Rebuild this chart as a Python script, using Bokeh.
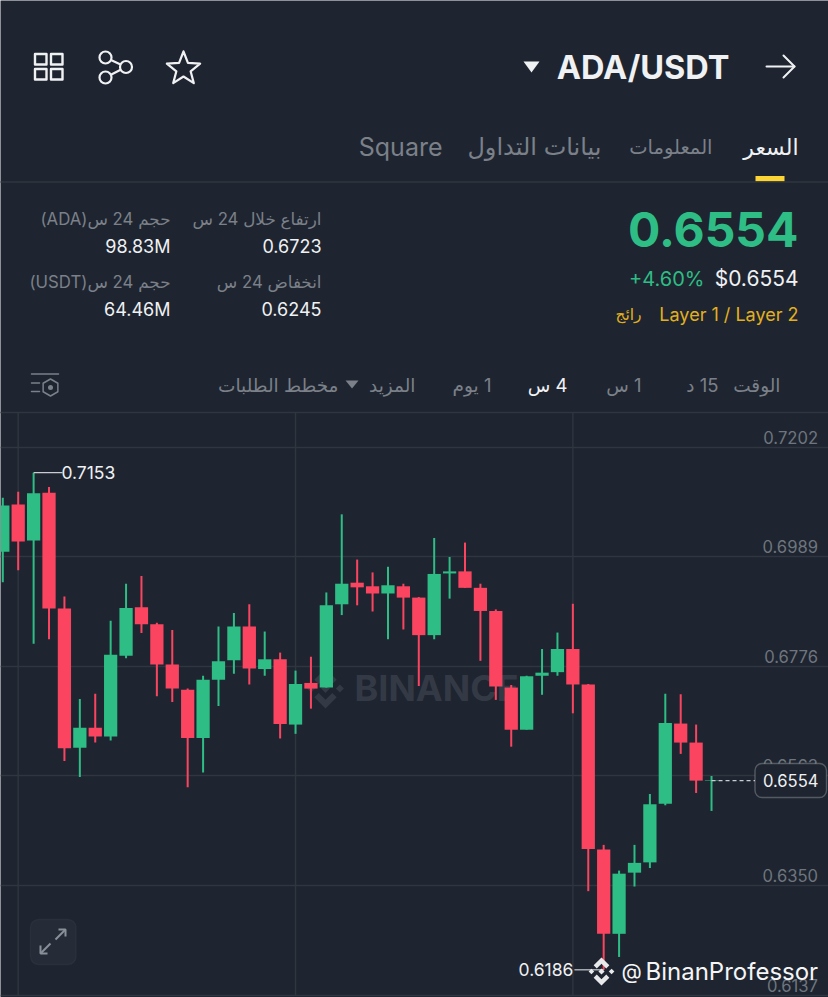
import numpy as np
from bokeh.core.properties import value
from bokeh.embed import file_html
from bokeh.models import BoxAnnotation, ColumnDataSource, FixedTicker, Grid, Label, Range1d
from bokeh.plotting import figure
from bokeh.resources import INLINE

# ---- data ----
opens = [0.6999, 0.7091, 0.7021, 0.7114, 0.6889, 0.6618, 0.6657, 0.6640, 0.6797, 0.6891,
         0.6858, 0.6780, 0.6731, 0.6637, 0.6750, 0.6788, 0.6854, 0.6771, 0.6790, 0.6663,
         0.6744, 0.6735, 0.6897, 0.6939, 0.6932, 0.6918, 0.6932, 0.6910, 0.6837, 0.6957,
         0.6961, 0.6929, 0.6884, 0.6735, 0.6653, 0.6758, 0.6765, 0.6810, 0.6741, 0.6420,
         0.6256, 0.6375, 0.6395, 0.6509, 0.6665, 0.6628, 0.6554]
highs = [0.7104, 0.7116, 0.7153, 0.7125, 0.6912, 0.6713, 0.6723, 0.6865, 0.6937, 0.6952,
         0.6861, 0.6847, 0.6733, 0.6758, 0.6854, 0.6880, 0.6897, 0.6844, 0.6803, 0.6768,
         0.6795, 0.6920, 0.7072, 0.6984, 0.6959, 0.6970, 0.6937, 0.6911, 0.7026, 0.6989,
         0.7017, 0.6937, 0.6887, 0.6740, 0.6758, 0.6810, 0.6842, 0.6898, 0.6742, 0.6429,
         0.6379, 0.6429, 0.6528, 0.6723, 0.6722, 0.6663, 0.6563]
lows = [0.6940, 0.6963, 0.6820, 0.6829, 0.6592, 0.6561, 0.6628, 0.6632, 0.6792, 0.6841,
        0.6718, 0.6707, 0.6541, 0.6570, 0.6699, 0.6762, 0.6741, 0.6758, 0.6636, 0.6645,
        0.6694, 0.6735, 0.6876, 0.6895, 0.6883, 0.6829, 0.6848, 0.6738, 0.6829, 0.6908,
        0.6929, 0.6787, 0.6711, 0.6620, 0.6653, 0.6721, 0.6758, 0.6685, 0.6339, 0.6186,
        0.6211, 0.6348, 0.6384, 0.6506, 0.6606, 0.6530, 0.6495]
closes = [0.7089, 0.7019, 0.7113, 0.6889, 0.6617, 0.6657, 0.6640, 0.6799, 0.6890, 0.6858,
          0.6780, 0.6733, 0.6637, 0.6750, 0.6786, 0.6854, 0.6772, 0.6790, 0.6664, 0.6742,
          0.6733, 0.6895, 0.6937, 0.6930, 0.6918, 0.6934, 0.6910, 0.6837, 0.6956, 0.6961,
          0.6929, 0.6884, 0.6737, 0.6653, 0.6757, 0.6764, 0.6810, 0.6741, 0.6421, 0.6256,
          0.6373, 0.6394, 0.6508, 0.6666, 0.6628, 0.6554, 0.6555]
y_ticks = [0.7202, 0.6989, 0.6776, 0.6563, 0.6350, 0.6137]
y_tick_labels = ["0.7202", "0.6989", "0.6776", "0.6563", "0.6350", "0.6137"]
x_grid_index = [1, 19, 37]

last_price = "0.6554"
intervals = [("الوقت", 780, False), ("15 د", 718, False), ("1 س", 641, False),
             ("4 س", 567, True), ("1 يوم", 491, False), ("المزيد", 415, False),
             ("مخطط الطلبات", 338, False)]
tabs = [("السعر", 798, True, 22), ("المعلومات", 712, False, 19.5), ("بيانات التداول", 601, False, 24), ("Square", 442, False, 25)]

# ---- colours ----
BG, GREEN, RED = "#1e2530", "#2ebd85", "#fb4560"
GRID, GREY, WHITE, GOLD = "#30363f", "#7b8089", "#f0f1f3", "#e2b01f"
FONT = "Inter, DejaVu Sans"

# figure covers the whole page; price / index ranges are set so the scales match the reference
PX0, PX1, PY0, PY1 = 0, 828, 0, 997
STEP, X_ORIGIN, PX_PER_PRICE, Y_ANCHOR = 15.407, 2.3, 5141.0, 885.0
p = figure(width=PX1 - PX0, height=PY1 - PY0, output_backend="svg", toolbar_location=None,
           x_range=Range1d((PX0 - X_ORIGIN) / STEP, (PX1 - X_ORIGIN) / STEP),
           y_range=Range1d(0.635 + (Y_ANCHOR - PY1) / PX_PER_PRICE, 0.635 + (Y_ANCHOR - PY0) / PX_PER_PRICE),
           x_axis_type=None, y_axis_type=None, min_border=0,
           background_fill_color=BG, border_fill_color=BG, outline_line_color=None)
p.xgrid.visible = False
p.ygrid.visible = False
p.extra_x_ranges = {"px": Range1d(PX0, PX1)}
p.extra_y_ranges = {"px": Range1d(PY1, PY0)}
PX = dict(x_range_name="px", y_range_name="px")

p.add_layout(Grid(dimension=1, ticker=FixedTicker(ticks=y_ticks), grid_line_color=GRID, grid_line_width=1.4))


def t(x, y, s, size, color, align="right", style="normal"):
    p.text([x], [y], text=[s], text_font=value(FONT), text_font_size=f"{size}px", text_color=color,
           text_align=align, text_baseline="middle", text_font_style=style, **PX)


def rtl(s):
    return "\u202b" + s + "\u202c"


def line(xs, ys, color=WHITE, w=2.0):
    p.line(xs, ys, line_color=color, line_width=w, line_join="round", line_cap="round", **PX)


def logo(cx, cy, s, color, alpha=1.0):
    shapes = [[(0, -1), (.56, -.44), (.34, -.22), (0, -.56), (-.34, -.22), (-.56, -.44)],
              [(0, 1), (.56, .44), (.34, .22), (0, .56), (-.34, .22), (-.56, .44)],
              [(0, -.22), (.22, 0), (0, .22), (-.22, 0)],
              [(-.72, -.2), (-.52, 0), (-.72, .2), (-.92, 0)],
              [(.72, -.2), (.52, 0), (.72, .2), (.92, 0)]]
    p.patches([[cx + a * s for a, _ in q] for q in shapes], [[cy + b * s for _, b in q] for q in shapes],
              fill_color=color, fill_alpha=alpha, line_color=None, **PX)


# ---- header icons ----
for x0 in (34.5, 50.5):
    for y0 in (53.5, 68.5):
        line([x0, x0 + 11.5, x0 + 11.5, x0, x0], [y0, y0, y0 + 10.5, y0 + 10.5, y0], w=2.4)
line([105, 125.5, 105], [57, 66.5, 77], w=2.2)
p.scatter([105, 125.5, 105], [57, 66.5, 77], size=12, marker="circle", fill_color=BG, line_color=WHITE, line_width=2.2, **PX)
ang = np.pi / 2 + np.arange(11) * np.pi / 5
rad = np.where(np.arange(11) % 2 == 0, 17.5, 7.5)
line(183 + rad * np.cos(ang), 68.5 - rad * np.sin(ang), w=2.2)
p.patch([523, 539, 531], [61, 61, 72], fill_color=WHITE, line_color=None, **PX)
t(729, 67, "ADA/USDT", 32.5, WHITE, style="bold")
line([766, 794], [66, 66], w=2)
line([783, 794, 783], [55, 66, 77], w=2)

# ---- tabs ----
for s, x, active, size in tabs:
    t(x, 146, rtl(s) if s != "Square" else s, size, WHITE if active else GREY)
p.quad(left=[755], right=[784], top=[175.5], bottom=[181], fill_color="#fcd535", line_color=None, **PX)
line([PX0, PX1], [181.5, 181.5], GRID, 1.4)

# ---- price summary ----
t(798, 229, last_price, 48, GREEN, style="bold")
t(704, 278, "+4.60%", 20, GREEN)
t(798, 278, "$" + last_price, 21, WHITE)
t(798, 314, "Layer 1 / Layer 2", 18, GOLD)
t(641, 314, rtl("رائج"), 15.5, GOLD)
for x, rows in ((321, [("ارتفاع خلال 24 س", "0.6723"), ("انخفاض 24 س", "0.6245")]),
                (170, [("حجم 24 س(ADA)", "98.83M"), ("حجم 24 س(USDT)", "64.46M")])):
    for (lab, val), yy in zip(rows, (218, 281)):
        t(x, yy, rtl(lab), 16.8, GREY)
        t(x, yy + 27.5, val, 18, WHITE)

# ---- interval row ----
for s, x, active in intervals:
    t(x, 384, rtl(s), 18.5, WHITE if active else GREY)
p.patch([345, 358, 351.5], [380, 380, 388], fill_color=GREY, line_color=None, **PX)
line([31, 58], [373.5, 373.5], GREY, 1.5)
line([31, 39], [382.5, 382.5], GREY, 1.5)
line([31, 39], [391, 391], GREY, 1.5)
a6 = np.pi / 6 + np.arange(7) * np.pi / 3
line(50 + 8.5 * np.cos(a6), 387 + 8.5 * np.sin(a6), GREY, 1.5)
p.scatter([50], [387], size=5, marker="circle", fill_color=GREY, line_color=None, **PX)

# ---- chart frame ----
line([PX0, PX1], [412, 412], GRID, 1.4)
p.segment(x0=x_grid_index, x1=x_grid_index, y0=[min(y_ticks)] * 3, y1=[0.635 + (Y_ANCHOR - 412) / PX_PER_PRICE] * 3,
          line_color=GRID, line_width=1.4)

# ---- background watermark ----
logo(325, 688, 20, "#343a45")
t(354, 687, "BINANCE", 36, "#343a45", align="left", style="bold")

# ---- candles ----
idx = list(range(len(opens)))
src = ColumnDataSource(dict(i=idx, o=opens, h=highs, l=lows, c=closes,
                            top=[max(a, b) for a, b in zip(opens, closes)],
                            bot=[min(a, b) for a, b in zip(opens, closes)],
                            col=[GREEN if c >= a else RED for a, c in zip(opens, closes)]))
p.segment(x0="i", x1="i", y0="l", y1="h", line_color="col", line_width=2, source=src)
p.vbar(x="i", width=0.86, top="top", bottom="bot", fill_color="col", line_color=None, source=src)

# ---- y-axis labels, sitting just above their grid lines ----
p.text([817.5] * len(y_ticks), y_ticks, text=y_tick_labels, x_range_name="px", y_offset=-10,
       text_font=value(FONT), text_font_size="16.6px", text_color="#6f757e", text_align="right", text_baseline="middle")

# ---- high / low markers ----
i_hi, i_lo = int(np.argmax(highs)), int(np.argmin(lows))
p.segment(x0=[i_hi], x1=[i_hi + 1.87], y0=[highs[i_hi]], y1=[highs[i_hi]], line_color="#c9ccd1", line_width=1.2)
p.text([i_hi + 1.87], [highs[i_hi]], text=[f"{highs[i_hi]:.4f}"], x_offset=-1, text_font=value(FONT), text_font_size="17.5px",
       text_color=WHITE, text_align="left", text_baseline="middle")
p.segment(x0=[i_lo - 1.9], x1=[i_lo], y0=[lows[i_lo]], y1=[lows[i_lo]], line_color="#c9ccd1", line_width=1.2)
p.text([i_lo - 1.9], [lows[i_lo]], text=[f"{lows[i_lo]:.4f}"], x_offset=-1, text_font=value(FONT), text_font_size="17.5px",
       text_color=WHITE, text_align="right", text_baseline="middle")

# ---- last-price line and tag ----
p.segment(x0=[idx[-1]], x1=[idx[-1] + 2.85], y0=[closes[-2]], y1=[closes[-2]], line_color="#c9ccd1", line_width=1.2, line_dash="4 3")
p.add_layout(BoxAnnotation(left=754.5, right=826, top=763, bottom=797, x_range_name="px", y_range_name="px",
                           fill_color=BG, fill_alpha=1, line_color="#d5d7da", line_width=1.4, border_radius=7))
p.add_layout(Label(x=818, y=closes[-2], x_range_name="px", text=last_price, text_font=FONT, text_font_size="16.6px",
                   text_color=WHITE, text_align="right", text_baseline="middle"))

# ---- expand button ----
p.add_layout(BoxAnnotation(left=30, right=75.5, top=919, bottom=964, x_range_name="px", y_range_name="px",
                           fill_color="#262c37", fill_alpha=1, line_color="#3d434e", line_width=1.4, border_radius=8))
for xs, ys in (([40, 50], [953, 943]), ([40, 40, 47], [945, 953, 953]), ([55, 65], [939, 929]), ([58, 65, 65], [929, 929, 936])):
    p.line(xs, ys, line_color="#8a8f98", line_width=2, level="overlay", **PX)

# ---- image-credit watermark ----
logo(601, 971, 14, "#e8e9eb")
t(621, 971, "@", 21, "#f5f5f6", align="left")
t(645, 971, "BinanProfessor", 24, "#f5f5f6", align="left")

open("out.html", "w").write(file_html(p, INLINE))
